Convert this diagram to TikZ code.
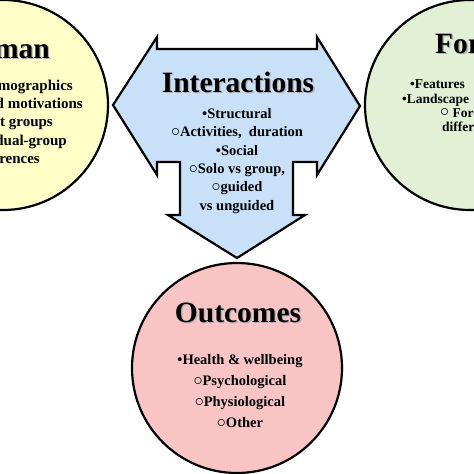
\documentclass[tikz,border=0pt]{standalone}
\usepackage{fontspec}
\setmainfont{Liberation Serif}
\usepackage{graphicx}
\definecolor{hyel}{HTML}{FFFFC8}
\definecolor{fgrn}{HTML}{E2F0D6}
\definecolor{iblu}{HTML}{C8E0F8}
\definecolor{opnk}{HTML}{F8C4C4}
\newcommand\obul{\raisebox{0.05ex}{\scalebox{1.25}{$\circ$}}}
\begin{document}
\begin{tikzpicture}[x=1pt,y=-1pt,
  bubble/.style={circle,draw=black,line width=2.2pt,minimum size=210pt,inner sep=0pt},
  ttl/.style={font=\fontsize{29.5}{31}\selectfont\bfseries,inner sep=0pt},
  shd/.style={ttl,text=black!30},
  body/.style={font=\fontsize{14.5}{18.3}\selectfont\bfseries,align=center,inner sep=0pt},
  lbody/.style={font=\fontsize{15}{18}\selectfont\bfseries,inner sep=0pt,anchor=base east},
  rbody/.style={font=\fontsize{13.5}{14}\selectfont\bfseries,inner sep=0pt,anchor=base west},
  arrowshape/.style={draw=black,line width=2.2pt,fill=iblu,line join=miter}
]
\useasboundingbox (0,0) rectangle (474,474);
\clip (0,0) rectangle (474,474);
\node[bubble,fill=hyel] (human) at (3,105) {};
\node[bubble,fill=fgrn] (forest) at (470,105) {};
\node[bubble,fill=opnk] (outcomes) at (237,368) {};
\draw[arrowshape] (113,105) -- (157,37) -- (157,49) -- (317,49) -- (317,37) -- (360,106)
  -- (317,175) -- (317,162) -- (293,162) -- (293,215) -- (305,215) -- (237,258)
  -- (168,215) -- (180,215) -- (180,162) -- (157,162) -- (157,175) -- cycle;
% titles
\node[shd] (ishd) at (239.3,83.3) {Interactions};
\node[ttl] (ititle) at (238,82) {Interactions};
\node[shd] (oshd) at (239.3,314.3) {Outcomes};
\node[ttl] (otitle) at (238,313) {Outcomes};
\node[shd,anchor=base east] (hshd) at (51.3,59.3) {Human};
\node[ttl,anchor=base east] (htitle) at (50,58) {Human};
\node[shd,anchor=base west] (fshd) at (436.3,54.3) {Forest};
\node[ttl,anchor=base west] (ftitle) at (435,53) {Forest};
% bodies
\node[body] (ibody) at (237,161) {\textbullet Structural\\ \obul Activities,\ \ duration\\ \textbullet Social\\ \obul Solo vs group,\\ \obul guided\\ vs unguided};
\node[body,font=\fontsize{14.5}{21}\selectfont\bfseries] (obody) at (240,391.5) {\textbullet Health \& wellbeing\\ \obul Psychological\\ \obul Physiological\\ \obul Other};
\node[lbody] (h1) at (73,90.5) {\textbullet Demographics};
\node[lbody] (h2) at (83,108.5) {\textbullet Needs and motivations};
\node[lbody] (h3) at (53,126.5) {\textbullet Target groups};
\node[lbody] (h4) at (67,145.5) {\textbullet Individual-group};
\node[lbody] (h5) at (40,163.5) {differences};
\node[rbody] (f1) at (410,88.5) {\textbullet Features};
\node[rbody] (f2) at (402,103) {\textbullet Landscape};
\node[rbody] (f3) at (440,117) {\obul\ Forest};
\node[rbody] (f4) at (442,131) {differences};
\end{tikzpicture}
\end{document}
